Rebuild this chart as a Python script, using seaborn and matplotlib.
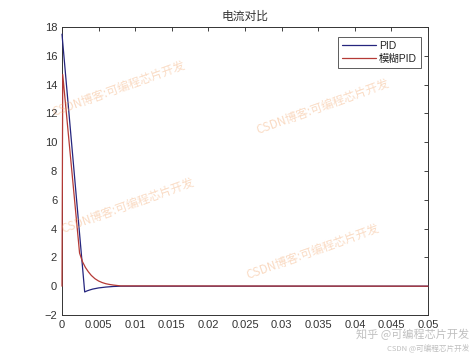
import matplotlib
matplotlib.use("Agg")
import matplotlib.pyplot as plt
import seaborn as sns
import pandas as pd

# ---- data ----
pid_t = [0, 0.0031, 0.0034, 0.0038, 0.0042, 0.0046, 0.005, 0.0055, 0.006, 0.0065, 0.007, 0.008, 0.05]
pid_i = [17.5, -0.4, -0.33, -0.26, -0.2, -0.16, -0.12, -0.09, -0.06, -0.04, -0.02, 0.0, 0.0]

fuzzy_t = [0, 0.0001, 0.0024, 0.0028, 0.0032, 0.0036, 0.004, 0.0045, 0.005, 0.0055,
           0.006, 0.0065, 0.007, 0.0075, 0.008, 0.05]
fuzzy_i = [0.0, 14.7, 2.3, 1.7, 1.3, 1.0, 0.75, 0.52, 0.36, 0.25,
           0.17, 0.12, 0.08, 0.05, 0.02, 0.0]

series_names = ["PID", "模糊PID"]
title = "电流对比"
xticks = [0, 0.005, 0.01, 0.015, 0.02, 0.025, 0.03, 0.035, 0.04, 0.045, 0.05]
xtick_labels = ["0", "0.005", "0.01", "0.015", "0.02", "0.025", "0.03", "0.035", "0.04", "0.045", "0.05"]
yticks = [-2, 0, 2, 4, 6, 8, 10, 12, 14, 16, 18]
watermark = "CSDN博客:可编程芯片开发"

df = pd.concat([
    pd.DataFrame({"t": pid_t, "i": pid_i, "s": series_names[0]}),
    pd.DataFrame({"t": fuzzy_t, "i": fuzzy_i, "s": series_names[1]}),
], ignore_index=True)

sns.set_style("white")
plt.rcParams["font.family"] = ["Liberation Sans", "Noto Sans CJK SC", "DejaVu Sans"]

fig = plt.figure(figsize=(4.74, 3.55), dpi=100)
ax = fig.add_axes([0.1308, 0.1127, 0.903 - 0.1308, 0.924 - 0.1127])

sns.lineplot(data=df, x="t", y="i", hue="s", sort=False, estimator=None,
             palette=["#25257e", "#b53a36"], linewidth=0.9, ax=ax)
for ln in ax.get_lines():
    ln.set_clip_on(False)
    ln.set_zorder(3)

ax.set_xlim(0, 0.05)
ax.set_ylim(-2, 18)
ax.set_xticks(xticks)
ax.set_xticklabels(xtick_labels)
ax.set_yticks(yticks)
ax.tick_params(direction="in", length=3, width=0.6, labelsize=8, colors="#222222",
               top=True, right=True, labelcolor="#333333")
for s in ax.spines.values():
    s.set_linewidth(0.7)
    s.set_color("#333333")
    s.set_visible(True)
    s.set_zorder(2)
ax.set_xlabel("")
ax.set_ylabel("")
ax.set_title(title, fontsize=8.5, color="#333333", pad=5,
             family=["Noto Sans CJK SC", "DejaVu Sans"])

leg = ax.legend(loc="upper right", fontsize=7.5, frameon=True, fancybox=False,
                handlelength=3.2, borderpad=0.4, labelspacing=0.25, handletextpad=0.3,
                bbox_to_anchor=(0.995, 0.985))
leg.get_frame().set_edgecolor("#333333")
leg.get_frame().set_linewidth(0.7)
for t in leg.get_texts():
    t.set_family(["Liberation Sans", "Noto Sans CJK SC"])
    t.set_color("#222222")

# watermarks
wm_kw = dict(color="#f2a56b", alpha=0.4, fontsize=8.5, rotation=20,
             family=["Noto Sans CJK SC", "DejaVu Sans"], ha="center", va="center")
for (x, y) in [(0.25, 0.75), (0.68, 0.70), (0.27, 0.42), (0.66, 0.29)]:
    fig.text(x, y, watermark, **wm_kw)
fig.text(0.99, 0.058, "知乎 @可编程芯片开发", color="#b0b0b0", alpha=0.8, fontsize=8,
         family=["Noto Sans CJK SC", "DejaVu Sans"], ha="right", va="center")
fig.text(0.99, 0.006, "CSDN @可编程芯片开发", color="#b0b0b0", alpha=0.8, fontsize=5.5,
         family=["Noto Sans CJK SC", "DejaVu Sans"], ha="right", va="bottom")

fig.savefig("out.png", dpi=100, facecolor="white")
